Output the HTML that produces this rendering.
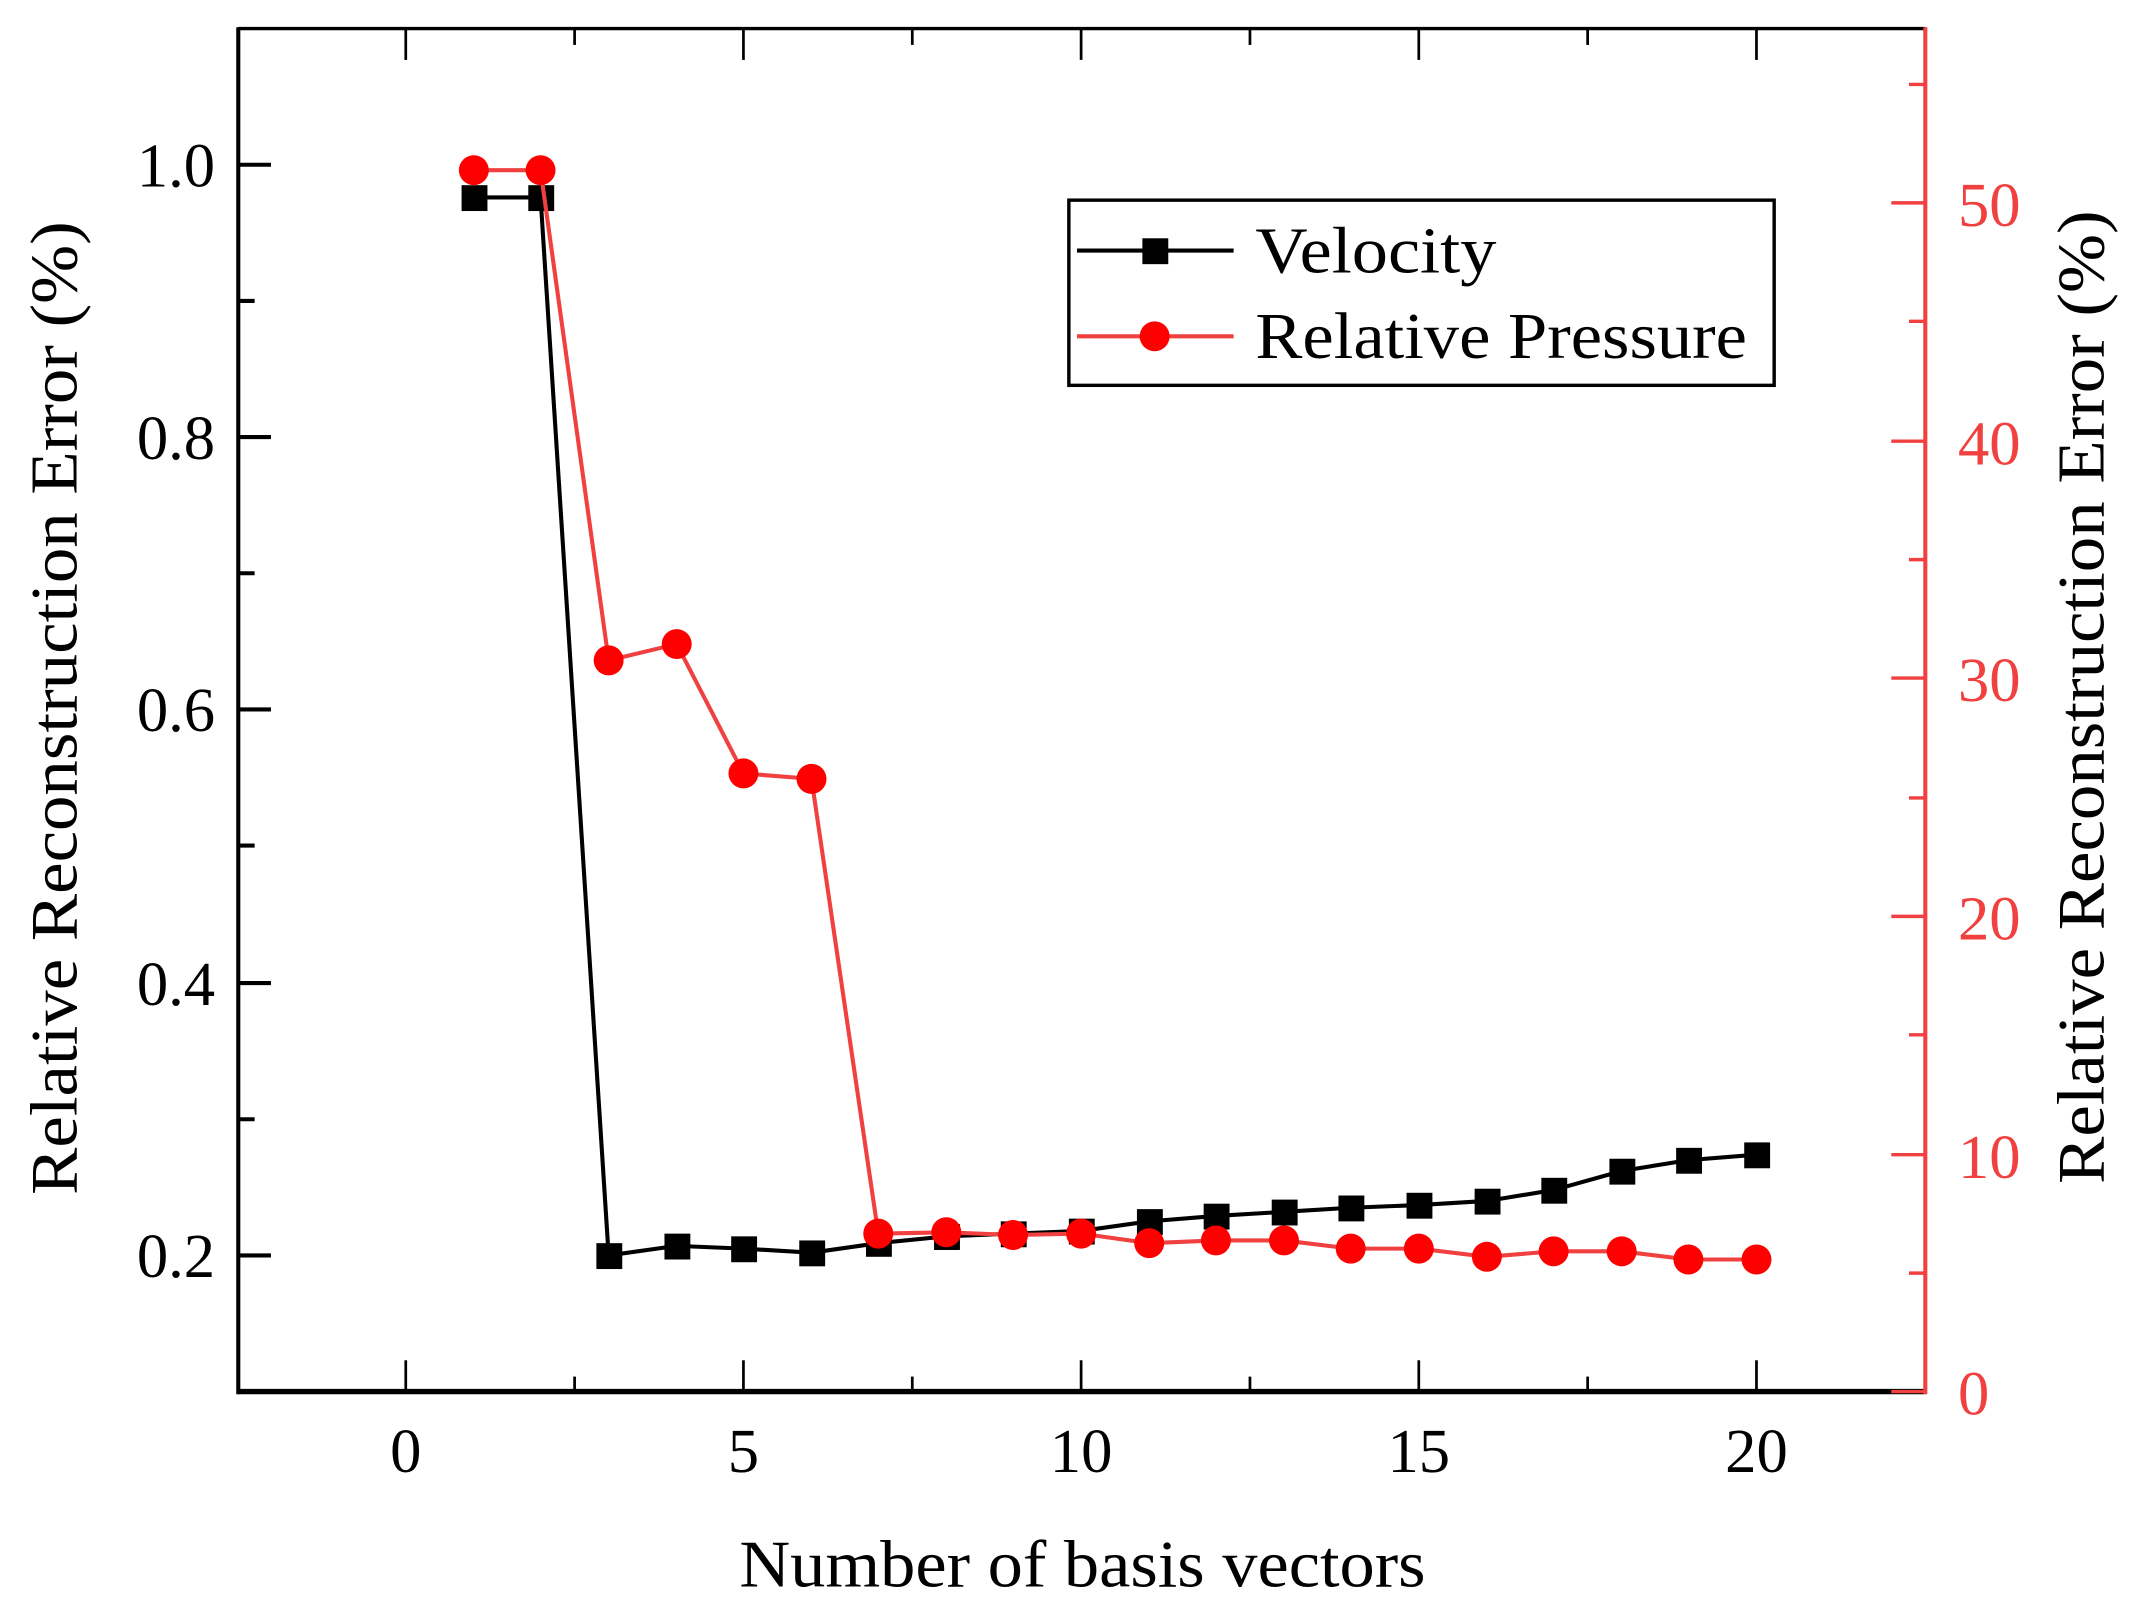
<!DOCTYPE html>
<html><head><meta charset="utf-8"><style>html,body{margin:0;padding:0;background:#fff}svg{display:block}</style></head>
<body>
<svg width="2135" height="1604" viewBox="0 0 1568 1178" preserveAspectRatio="none" xmlns="http://www.w3.org/2000/svg" font-family="Liberation Serif, serif">
<rect width="1568" height="1178" fill="#fff"/>
<line x1="175" y1="21" x2="1414" y2="21" stroke="#000" stroke-width="2.5"/>
<g stroke="#000" stroke-width="2">
<line x1="298" y1="21" x2="298" y2="44"/><line x1="546" y1="21" x2="546" y2="44"/><line x1="794" y1="21" x2="794" y2="44"/><line x1="1042" y1="21" x2="1042" y2="44"/><line x1="1290" y1="21" x2="1290" y2="44"/>
<line x1="422" y1="21" x2="422" y2="33"/><line x1="670" y1="21" x2="670" y2="33"/><line x1="918" y1="21" x2="918" y2="33"/><line x1="1166" y1="21" x2="1166" y2="33"/>
</g>
<line x1="175" y1="1022" x2="1414" y2="1022" stroke="#000" stroke-width="4"/>
<g stroke="#000" stroke-width="2">
<line x1="298" y1="1022" x2="298" y2="999"/><line x1="546" y1="1022" x2="546" y2="999"/><line x1="794" y1="1022" x2="794" y2="999"/><line x1="1042" y1="1022" x2="1042" y2="999"/><line x1="1290" y1="1022" x2="1290" y2="999"/>
<line x1="422" y1="1022" x2="422" y2="1011"/><line x1="670" y1="1022" x2="670" y2="1011"/><line x1="918" y1="1022" x2="918" y2="1011"/><line x1="1166" y1="1022" x2="1166" y2="1011"/>
</g>
<line x1="175" y1="20" x2="175" y2="1024" stroke="#000" stroke-width="3"/>
<g stroke="#000" stroke-width="3">
<line x1="175" y1="121" x2="199" y2="121"/><line x1="175" y1="321" x2="199" y2="321"/><line x1="175" y1="521" x2="199" y2="521"/><line x1="175" y1="722" x2="199" y2="722"/><line x1="175" y1="922" x2="199" y2="922"/>
<line x1="175" y1="221" x2="187" y2="221"/><line x1="175" y1="421" x2="187" y2="421"/><line x1="175" y1="621" x2="187" y2="621"/><line x1="175" y1="822" x2="187" y2="822"/>
</g>
<line x1="1414" y1="20" x2="1414" y2="1024" stroke="#f04040" stroke-width="3"/>
<g stroke="#f04040" stroke-width="2.5">
<line x1="1414" y1="1022" x2="1389" y2="1022"/><line x1="1414" y1="848" x2="1389" y2="848"/><line x1="1414" y1="673" x2="1389" y2="673"/><line x1="1414" y1="498" x2="1389" y2="498"/><line x1="1414" y1="324" x2="1389" y2="324"/><line x1="1414" y1="149" x2="1389" y2="149"/>
<line x1="1414" y1="935" x2="1402" y2="935"/><line x1="1414" y1="760" x2="1402" y2="760"/><line x1="1414" y1="586" x2="1402" y2="586"/><line x1="1414" y1="411" x2="1402" y2="411"/><line x1="1414" y1="236" x2="1402" y2="236"/><line x1="1414" y1="62" x2="1402" y2="62"/>
</g>
<g font-size="46" fill="#000" text-anchor="end">
<text x="158" y="137">1.0</text><text x="158" y="337">0.8</text><text x="158" y="537">0.6</text><text x="158" y="738">0.4</text><text x="158" y="938">0.2</text>
</g>
<g font-size="46" fill="#000" text-anchor="middle">
<text x="298" y="1081">0</text><text x="546" y="1081">5</text><text x="794" y="1081">10</text><text x="1042" y="1081">15</text><text x="1290" y="1081">20</text>
</g>
<g font-size="46" fill="#f04040">
<text x="1438" y="1039">0</text>
<text x="1438" y="865">10</text>
<text x="1438" y="690">20</text>
<text x="1438" y="515">30</text>
<text x="1438" y="341">40</text>
<text x="1438" y="166">50</text>
</g>
<text x="795" y="1165" font-size="49" text-anchor="middle" textLength="504" lengthAdjust="spacingAndGlyphs">Number of basis vectors</text>
<text transform="translate(56,520) rotate(-90)" font-size="49" text-anchor="middle" textLength="715" lengthAdjust="spacingAndGlyphs">Relative Reconstruction Error (%)</text>
<text transform="translate(1545,512) rotate(-90)" font-size="49" text-anchor="middle" textLength="715" lengthAdjust="spacingAndGlyphs">Relative Reconstruction Error (%)</text>
<polyline fill="none" stroke="#000" stroke-width="3" points="348,145 397,145 447,922 497,915 546,917 596,920 645,913 695,908 744,906 794,904 844,897 893,893 943,890 992,887 1042,885 1092,882 1141,874 1191,860 1240,852 1290,848"/>
<g fill="#000">
<rect x="339" y="136" width="19" height="19"/><rect x="388" y="136" width="19" height="19"/><rect x="438" y="913" width="19" height="19"/><rect x="488" y="906" width="19" height="19"/><rect x="537" y="908" width="19" height="19"/><rect x="587" y="911" width="19" height="19"/><rect x="636" y="904" width="19" height="19"/><rect x="686" y="899" width="19" height="19"/><rect x="735" y="897" width="19" height="19"/><rect x="785" y="895" width="19" height="19"/><rect x="835" y="888" width="19" height="19"/><rect x="884" y="884" width="19" height="19"/><rect x="934" y="881" width="19" height="19"/><rect x="983" y="878" width="19" height="19"/><rect x="1033" y="876" width="19" height="19"/><rect x="1083" y="873" width="19" height="19"/><rect x="1132" y="865" width="19" height="19"/><rect x="1182" y="851" width="19" height="19"/><rect x="1231" y="843" width="19" height="19"/><rect x="1281" y="839" width="19" height="19"/>
</g>
<polyline fill="none" stroke="#f04040" stroke-width="3" points="348,125 397,125 447,485 497,473 546,568 596,572 645,906 695,905 744,907 794,906 844,913 893,911 943,911 992,917 1042,917 1092,923 1141,919 1191,919 1240,925 1290,925"/>
<g fill="#ff0000">
<circle cx="348" cy="125" r="11"/><circle cx="397" cy="125" r="11"/><circle cx="447" cy="485" r="11"/><circle cx="497" cy="473" r="11"/><circle cx="546" cy="568" r="11"/><circle cx="596" cy="572" r="11"/><circle cx="645" cy="906" r="11"/><circle cx="695" cy="905" r="11"/><circle cx="744" cy="907" r="11"/><circle cx="794" cy="906" r="11"/><circle cx="844" cy="913" r="11"/><circle cx="893" cy="911" r="11"/><circle cx="943" cy="911" r="11"/><circle cx="992" cy="917" r="11"/><circle cx="1042" cy="917" r="11"/><circle cx="1092" cy="923" r="11"/><circle cx="1141" cy="919" r="11"/><circle cx="1191" cy="919" r="11"/><circle cx="1240" cy="925" r="11"/><circle cx="1290" cy="925" r="11"/>
</g>
<rect x="785" y="147" width="518" height="136" fill="#fff" stroke="#000" stroke-width="2.5"/>
<line x1="791" y1="184" x2="906" y2="184" stroke="#000" stroke-width="3"/>
<rect x="839" y="175" width="19" height="19" fill="#000"/>
<text x="922" y="200" font-size="48" textLength="177" lengthAdjust="spacingAndGlyphs">Velocity</text>
<line x1="791" y1="247" x2="906" y2="247" stroke="#f04040" stroke-width="3"/>
<circle cx="848" cy="247" r="11" fill="#ff0000"/>
<text x="922" y="263" font-size="48" textLength="361" lengthAdjust="spacingAndGlyphs">Relative Pressure</text>
</svg>
</body></html>
